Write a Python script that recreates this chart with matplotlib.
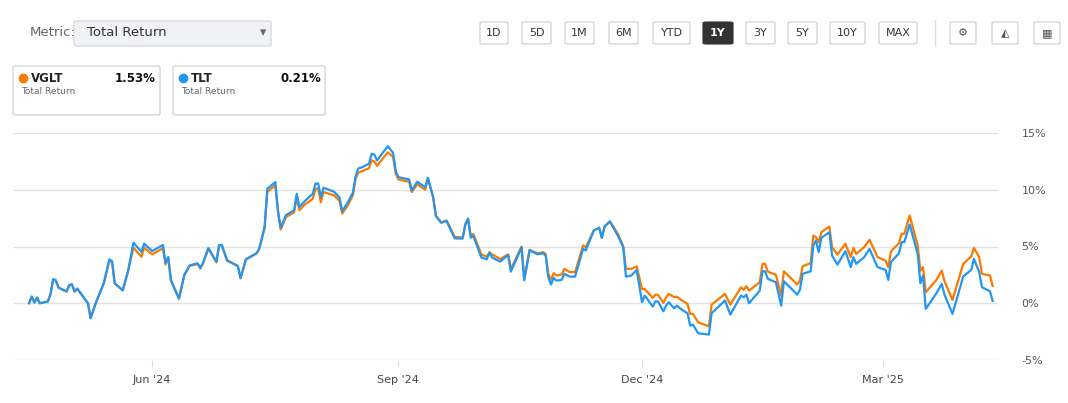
import matplotlib.pyplot as plt
from matplotlib.patches import FancyBboxPatch
import pandas as pd

# trading points: day offset from 2024-04-15, total return in %
days = [1, 2, 3, 4, 5, 8, 9, 10, 11, 12, 15, 16, 17, 18, 19, 23, 24, 26, 29, 31,
        32, 33, 36, 38, 40, 43, 44, 47, 51, 52, 53, 54, 57, 59, 61, 64, 65, 66, 68, 71,
        72, 73, 75, 79, 80, 82, 86, 87, 89, 90, 93, 94, 95, 97, 100, 101, 102, 104, 107, 108,
        109, 110, 111, 115, 117, 118, 120, 122, 123, 124, 125, 128, 129, 130, 131, 135, 137, 138, 139, 143,
        144, 146, 149, 150, 152, 153, 155, 157, 160, 163, 164, 165, 166, 167, 170, 172, 173, 174, 177, 180,
        181, 185, 186, 188, 191,
        193, 194, 195, 196, 197, 198, 200, 201, 203, 205, 208, 209, 212, 214, 215, 216, 218, 221, 223, 224,
        226, 228, 230, 231, 234, 235, 236, 238, 239, 240, 242, 243, 245, 247, 248, 249, 251, 255, 256, 261,
        263, 267, 268, 269, 270, 274, 275, 276, 277, 280, 282, 283, 288, 289, 290, 293, 294, 295, 296, 297,
        300, 301, 303, 306, 308, 309, 310, 313, 315, 318, 321, 322, 323, 326, 327, 328, 330, 333, 334, 335,
        336, 340, 342, 343, 346, 350, 353, 354, 356, 357, 360, 361]

tlt = [0, 0.59, 0.06, 0.5, 0, 0.15, 0.79, 2.11, 2.02, 1.38, 1.03, 1.58, 1.67, 1.03, 1.29, 0, -1.32, 0.06, 1.82, 3.87,
       3.72, 1.76, 1.14, 2.84, 5.34, 4.52, 5.25, 4.6, 5.13, 3.58, 4.08, 2.02, 0.41, 2.49, 3.34, 3.52, 3.11, 3.58, 4.87, 3.67,
       5.13, 5.13, 3.78, 3.28, 2.2, 3.87, 4.4, 4.81, 6.72, 10.09, 10.67, 8.18, 6.66, 7.77, 8.18, 9.65, 8.48, 9.0, 9.65, 10.53,
       10.56, 9.35, 10.18, 9.82, 9.3, 8.12, 8.86, 9.74, 11.2, 11.88, 11.94, 12.29, 13.17, 13.1, 12.58, 13.84, 13.25, 11.64, 11.11, 10.91,
       9.94, 10.7, 10.23, 11.06, 9.3, 7.68, 7.1, 7.24, 5.72, 5.69, 6.95, 7.45, 5.78, 5.92, 4.02, 3.87, 4.46, 4.02, 3.67, 4.25,
       2.79, 4.9, 2.02, 4.66, 4.31,
       4.41, 4.21, 2.29, 1.65, 2.24, 2.0, 2.06, 2.59, 2.35, 2.35, 4.79, 4.65, 6.41, 6.65, 5.76, 6.76, 7.21, 5.94, 4.94, 2.35,
       2.44, 2.94, 0.09, 0.68, -0.29, 0.18, 0.15, -0.71, -0.21, 0.09, -0.44, -0.21, -0.59, -0.88, -1.97, -1.88, -2.65, -2.76, -0.88, 0.24,
       -1.0, 0.68, 0.53, 0.76, 0, 1.12, 2.82, 2.82, 2.15, 1.85, -0.21, 1.94, 0.76, 1.18, 2.59, 2.82, 5.09, 5.53, 4.5, 5.76,
       6.26, 4.21, 3.41, 4.59, 3.18, 4.06, 3.47, 4.06, 4.79, 3.18, 2.94, 2.06, 3.62, 4.41, 5.38, 5.38, 6.94, 4.35, 1.76, 2.44,
       -0.5, 0.88, 1.71, 0.76, -0.94, 2.35, 2.94, 3.91, 2.74, 1.41, 1.06, 0.21]

vglt = [0, 0.59, 0.06, 0.5, 0, 0.15, 0.79, 2.11, 2.02, 1.38, 1.03, 1.58, 1.67, 1.03, 1.29, 0, -1.32, 0.06, 1.82, 3.8,
        3.6, 1.76, 1.14, 2.84, 4.9, 4.1, 4.9, 4.3, 4.85, 3.4, 4.0, 2.02, 0.41, 2.49, 3.3, 3.45, 3.05, 3.5, 4.8, 3.6,
        5.1, 5.1, 3.75, 3.28, 2.2, 3.87, 4.4, 4.8, 6.6, 9.8, 10.4, 8.0, 6.5, 7.6, 8.0, 9.3, 8.2, 8.7, 9.2, 10.1,
        10.1, 8.9, 9.8, 9.5, 9.0, 7.9, 8.6, 9.5, 11.0, 11.5, 11.6, 11.9, 12.6, 12.5, 12.1, 13.3, 12.9, 11.4, 10.9, 10.7,
        9.8, 10.5, 10.0, 11.0, 9.3, 7.7, 7.1, 7.3, 5.85, 5.8, 6.95, 7.45, 6.0, 6.1, 4.3, 4.1, 4.5, 4.3, 3.9, 4.3,
        3.0, 5.0, 2.1, 4.7, 4.4,
        4.5, 4.35, 2.59, 2.06, 2.65, 2.44, 2.53, 3.03, 2.74, 2.74, 5.09, 4.94, 6.41, 6.65, 5.76, 6.76, 7.21, 6.12, 5.0, 3.03,
        3.03, 3.26, 1.26, 1.26, 0.47, 0.76, 0.74, 0.03, 0.53, 0.82, 0.53, 0.59, 0.24, -0.06, -0.94, -0.94, -1.68, -2.03, -0.12, 0.82,
        -0.12, 1.41, 1.18, 1.5, 1.12, 1.85, 3.47, 3.47, 2.79, 2.5, 0.68, 2.82, 1.65, 2.0, 3.26, 3.53, 5.97, 5.82, 5.38, 6.26,
        6.76, 4.94, 4.29, 5.24, 4.06, 4.88, 4.35, 4.94, 5.59, 4.06, 3.76, 3.18, 4.56, 5.29, 6.12, 6.12, 7.74, 5.09, 2.88, 3.18,
        0.97, 2.06, 2.88, 1.94, 0.29, 3.47, 4.12, 4.88, 4.06, 2.59, 2.44, 1.53]

tick_dates = ["2024-06-01", "2024-09-01", "2024-12-01", "2025-03-01"]
tick_labels = ["Jun '24", "Sep '24", "Dec '24", "Mar '25"]
y_ticks = [-5, 0, 5, 10, 15]
ranges = ["1D", "5D", "1M", "6M", "YTD", "1Y", "3Y", "5Y", "10Y", "MAX"]
range_x = [(480, 508), (522, 551), (565, 594), (609, 638), (653, 690), (703, 733),
           (746, 775), (788, 817), (830, 865), (879, 917)]

ORANGE = "#fa7a00"
BLUE = "#2196f3"
W, H = 1068, 403

start = pd.Timestamp("2024-04-15")
dates = start + pd.to_timedelta(days, unit="D")

fig = plt.figure(figsize=(W / 100, H / 100), dpi=100)
ax = fig.add_axes([13 / W, 1 - 360 / H, (998 - 13) / W, (360 - 133) / H])
ax.plot(dates, vglt, color=ORANGE, lw=1.6)
ax.plot(dates, tlt, color=BLUE, lw=1.6)
ax.set_xlim(start + pd.Timedelta(days=-5), start + pd.Timedelta(days=363))
ax.set_ylim(-5, 15)
ax.set_yticks(y_ticks)
ax.set_yticklabels([f"{v}%" for v in y_ticks])
ax.yaxis.tick_right()
ax.grid(axis="y", color="#e2e2e2", lw=1)
ax.set_xticks(pd.to_datetime(tick_dates))
ax.set_xticklabels(tick_labels)
ax.tick_params(axis="x", length=5, color="#dddddd", labelsize=8, labelcolor="#444444", pad=6)
ax.tick_params(axis="y", length=0, labelsize=8, labelcolor="#555555", pad=17)
for s in ax.spines.values():
    s.set_visible(False)


def box(x0, y0, x1, y1, fc="white", ec="#cccccc", r=3):
    fig.patches.append(FancyBboxPatch((x0 / W, 1 - y1 / H), (x1 - x0) / W, (y1 - y0) / H,
                                      boxstyle=f"round,pad=0,rounding_size={r / W}",
                                      transform=fig.transFigure, fc=fc, ec=ec, lw=0.8))


def txt(x, y, s, **kw):
    fig.text(x / W, 1 - y / H, s, va="center", **kw)


# metric dropdown
txt(30, 33, "Metric:", fontsize=9.5, color="#666666")
box(74, 21, 271, 46, fc="#f1f2f5", ec="#cfd2d8")
txt(87, 33, "Total Return", fontsize=9.5, color="#333333")
txt(260, 33, "▾", fontsize=9, color="#666666")

# range buttons
for lab, (x0, x1) in zip(ranges, range_x):
    dark = lab == "1Y"
    box(x0, 22, x1, 44, fc="#333333" if dark else "white", ec="#333333" if dark else "#cccccc")
    txt((x0 + x1) / 2, 33, lab, fontsize=8, ha="center",
        color="white" if dark else "#333333", fontweight="bold" if dark else "normal")
fig.add_artist(plt.Line2D([935 / W, 935 / W], [1 - 20 / H, 1 - 46 / H], color="#dddddd", lw=1))
for x0, sym in [(950, "⚙"), (992, "◭"), (1034, "▦")]:
    box(x0, 22, x0 + 26, 44)
    txt(x0 + 13, 33, sym, fontsize=8, ha="center", color="#555555")

# legend cards
for (x0, x1), name, val, col in [((13, 160), "VGLT", "1.53%", ORANGE), ((173, 325), "TLT", "0.21%", BLUE)]:
    box(x0, 66, x1, 115)
    fig.add_artist(plt.Line2D([(x0 + 10) / W], [1 - 78 / H], marker="o", markersize=7,
                              color=col, markeredgewidth=0))
    txt(x0 + 18, 78, name, fontsize=8.5, fontweight="bold", color="#222222")
    txt(x1 - 4, 78, val, fontsize=8.5, fontweight="bold", color="#111111", ha="right")
    txt(x0 + 8, 92, "Total Return", fontsize=6.5, color="#666666")

fig.savefig("out.png", dpi=100, facecolor="white")
